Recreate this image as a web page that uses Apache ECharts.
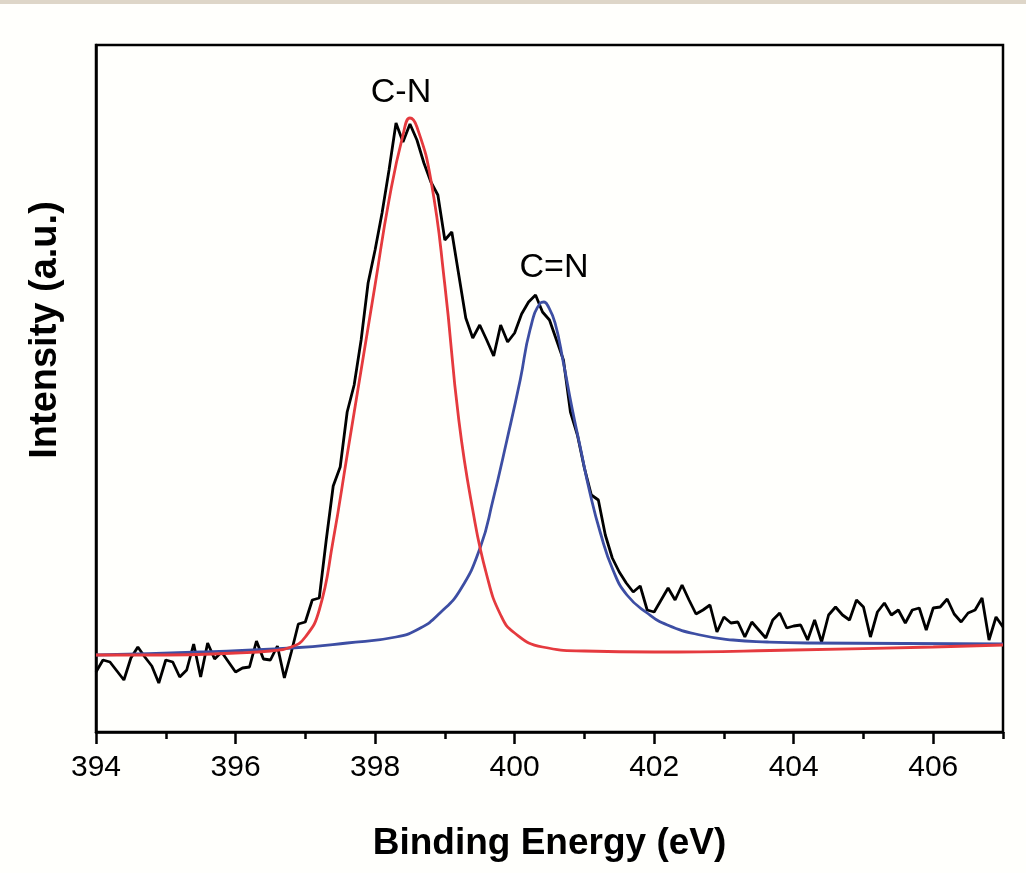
<!DOCTYPE html>
<html>
<head>
<meta charset="utf-8">
<script src="https://cdn.jsdelivr.net/npm/echarts@6/dist/echarts.min.js"></script>
<style>
  html, body { margin: 0; padding: 0; background: #fffffc; }
  #chart { width: 1026px; height: 873px; }
</style>
</head>
<body>
<div id="chart"></div>
<script>
// N 1s spectrum, measured every 0.1 eV from 394 to 407 eV (a.u.)
const startEnergy = 394;
const stepEnergy = 0.1;
const measured = [
  60, 72, 70, 61, 52, 74, 85, 75, 66, 49,
  72, 70, 55, 62, 88, 55, 89, 73, 80, 70,
  60, 64, 65, 91, 73, 72, 86, 54, 80, 108,
  110, 132, 134, 192, 246, 265, 320, 347, 392, 449,
  482, 519, 562, 609, 590, 608, 592, 569, 550, 537,
  492, 500, 457, 414, 394, 407, 392, 376, 407, 390,
  399, 418, 430, 437, 420, 412, 392, 372, 320, 297,
  264, 237, 232, 197, 174, 160, 149, 140, 146, 122,
  120, 132, 144, 132, 147, 132, 118, 122, 127, 100,
  115, 109, 110, 95, 110, 102, 94, 112, 119, 104,
  106, 107, 92, 112, 90, 117, 125, 117, 112, 132,
  125, 95, 120, 129, 117, 122, 109, 122, 124, 102,
  124, 125, 133, 118, 110, 119, 122, 134, 92, 115,
  105
];

// fitted components, [eV, intensity]
const fitCN = [
  [394.0, 77], [395.0, 77], [396.0, 79], [396.5, 81], [396.8, 85],
  [397.0, 95], [397.2, 122], [397.4, 192], [397.6, 277], [397.8, 362],
  [398.0, 447], [398.2, 532], [398.4, 597], [398.5, 614], [398.6, 605],
  [398.8, 552], [399.0, 447], [399.2, 312], [399.4, 222], [399.6, 157],
  [399.8, 117], [400.0, 99], [400.4, 85], [401.0, 81], [402.0, 80],
  [404.0, 82], [406.0, 85], [407.0, 87]
];
const fitCdN = [
  [394.0, 77], [395.5, 80], [396.8, 84], [397.6, 89], [398.3, 95],
  [398.65, 104], [398.93, 119], [399.22, 142], [399.51, 185], [399.69, 232],
  [399.89, 292], [400.08, 352], [400.22, 402], [400.37, 429], [400.42, 430],
  [400.47, 427], [400.58, 409], [400.7, 369], [400.82, 325], [400.94, 285],
  [401.08, 239], [401.23, 199], [401.41, 162], [401.61, 137], [401.9, 119],
  [402.19, 107], [402.66, 97], [403.13, 92], [403.62, 90], [404.19, 89],
  [407.0, 88]
];

const majorTicks = [394, 396, 398, 400, 402, 404, 406];
const minorTicks = [395, 397, 399, 401, 403, 405, 407];

const rawData = measured.map((v, i) => [+(startEnergy + i * stepEnergy).toFixed(1), v]);

const font = '"Liberation Sans", Arial, Helvetica, sans-serif';
const chart = echarts.init(document.getElementById('chart'));

chart.setOption({
  backgroundColor: '#fffffc',
  animation: false,
  grid: {
    left: 96, right: 23, top: 45, bottom: 141,
    show: true, borderColor: '#000', borderWidth: 2.5, backgroundColor: 'transparent'
  },
  xAxis: [
    {
      type: 'value', min: 394, max: 407, interval: 2,
      name: 'Binding Energy (eV)', nameLocation: 'middle', nameGap: 93,
      nameTextStyle: { fontFamily: font, fontSize: 37, fontWeight: 'bold', color: '#000' },
      axisLine: { lineStyle: { color: '#000', width: 2.5 } },
      axisTick: { show: true, customValues: majorTicks, length: 12, lineStyle: { color: '#000', width: 2.5 } },
      axisLabel: { customValues: majorTicks, margin: 21, fontFamily: font, fontSize: 30, color: '#000' },
      splitLine: { show: false }
    },
    {
      type: 'value', min: 394, max: 407, position: 'bottom',
      axisLine: { show: false },
      axisTick: { show: true, customValues: minorTicks, length: 7, lineStyle: { color: '#000', width: 2.5 } },
      axisLabel: { show: false },
      splitLine: { show: false }
    }
  ],
  yAxis: {
    type: 'value', min: 0, max: 687,
    axisLine: { show: true, lineStyle: { color: '#000', width: 2.5 } },
    axisTick: { show: false },
    axisLabel: { show: false },
    splitLine: { show: false }
  },
  graphic: [
    { type: 'rect', left: 0, top: 0, shape: { width: 1026, height: 4 }, style: { fill: '#ded6c8' } },
    {
      type: 'text', x: 46, y: 330, rotation: Math.PI / 2,
      style: { text: 'Intensity (a.u.)', fontFamily: font, fontSize: 38, fontWeight: 'bold', fill: '#000', align: 'center', verticalAlign: 'middle' }
    },
    {
      type: 'text', x: 401, y: 93,
      style: { text: 'C-N', fontFamily: font, fontSize: 34, fill: '#000', align: 'center', verticalAlign: 'middle' }
    },
    {
      type: 'text', x: 554, y: 268,
      style: { text: 'C=N', fontFamily: font, fontSize: 34, fill: '#000', align: 'center', verticalAlign: 'middle' }
    }
  ],
  series: [
    {
      name: 'raw', type: 'line', data: rawData, showSymbol: false,
      lineStyle: { color: '#000', width: 2.8 }, z: 2
    },
    {
      name: 'C=N', type: 'line', data: fitCdN, showSymbol: false, smooth: true,
      lineStyle: { color: '#3d4ea3', width: 2.8 }, z: 3
    },
    {
      name: 'C-N', type: 'line', data: fitCN, showSymbol: false, smooth: true,
      lineStyle: { color: '#e53a3e', width: 2.8 }, z: 4
    }
  ]
});
</script>
</body>
</html>
